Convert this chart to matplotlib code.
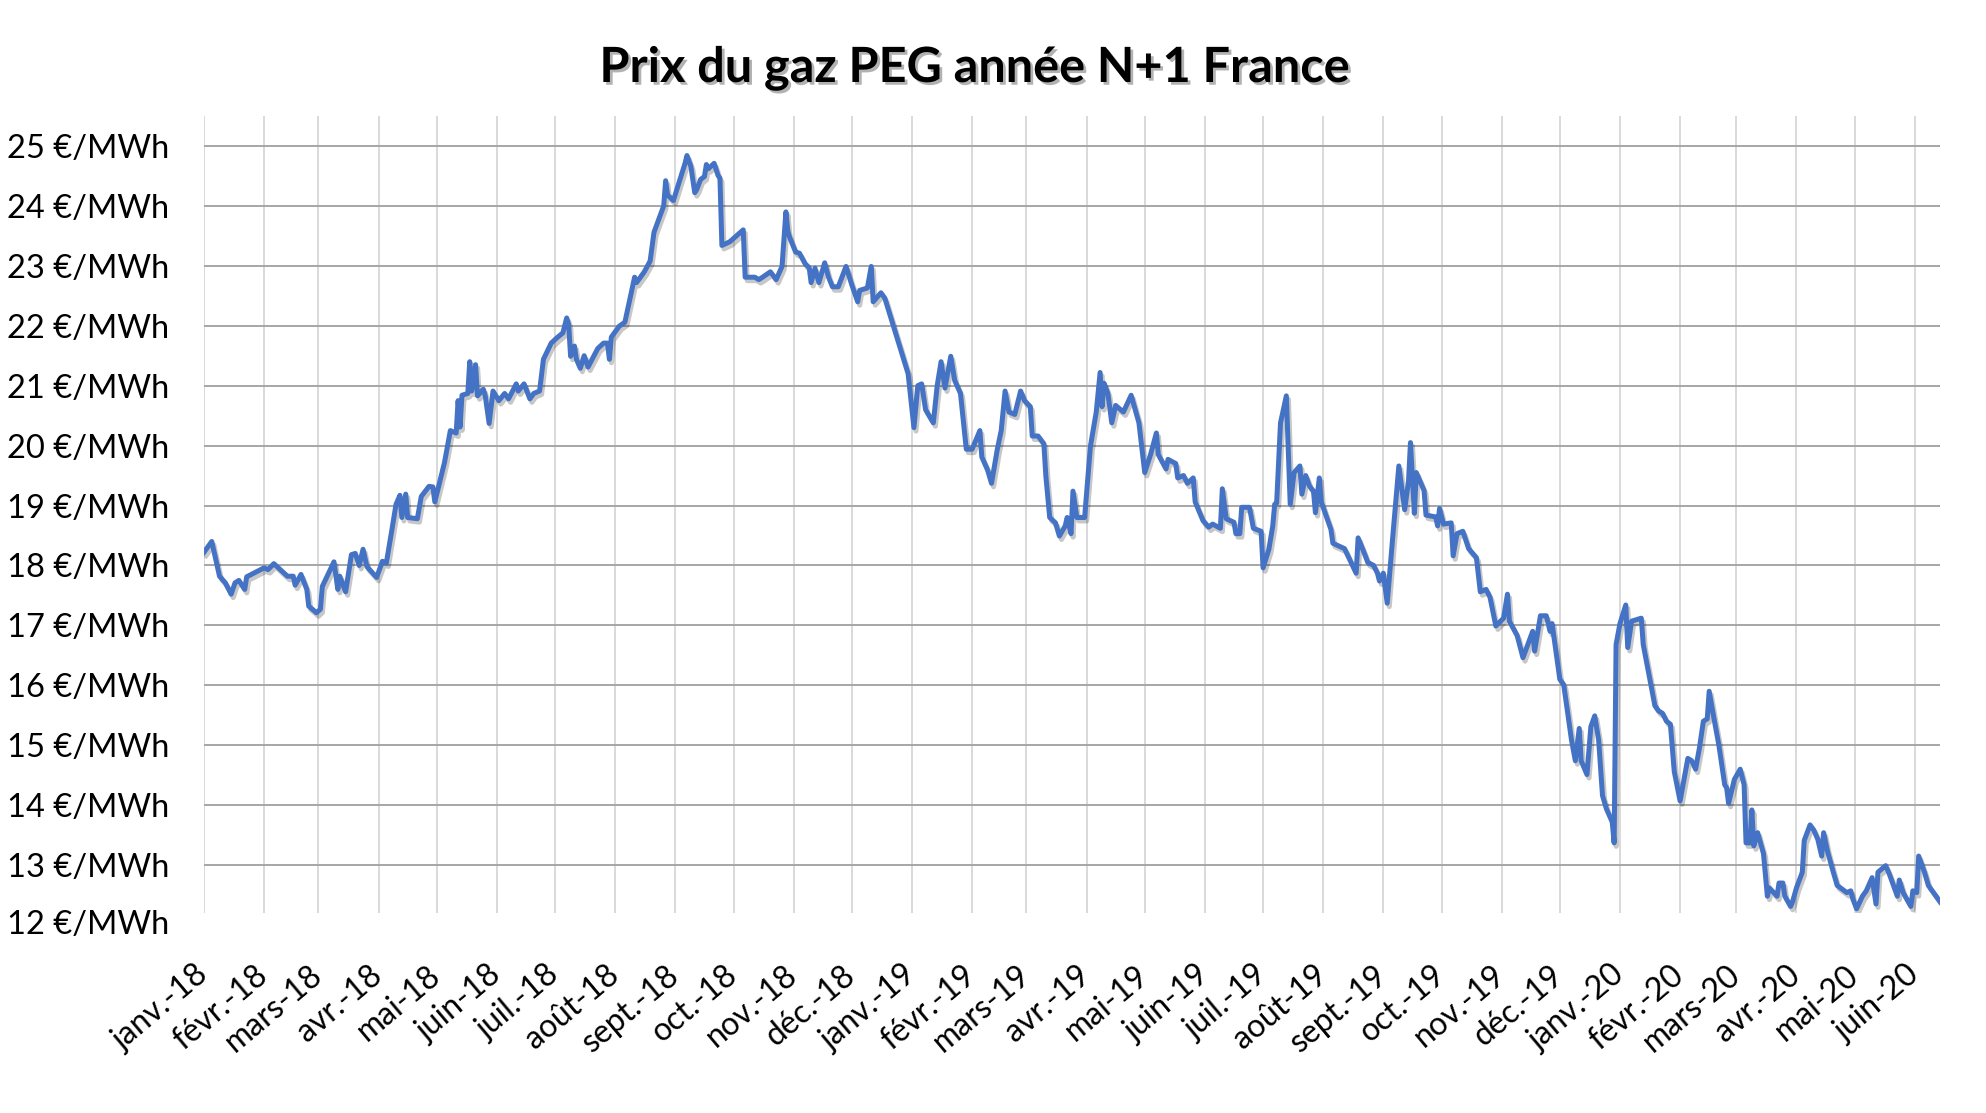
import numpy as np
import matplotlib
matplotlib.use("Agg")
import matplotlib.pyplot as plt
import matplotlib.patheffects as pe
from matplotlib.transforms import ScaledTranslation

plt.rcParams['font.family'] = ['Lato', 'DejaVu Sans']

title = "Prix du gaz PEG année N+1 France"
start_date = "2018-01-01"
end_date = "2020-06-14"

# day offsets from 2018-01-01 and prices (€/MWh)
days_2018 = [0,4,8,11,14,16,18,21,22,31,33,36,43,46,47,50,53,54,58,60,
             61,67,69,70,73,76,78,80,82,84,89,92,94,97,99,101,102,104,105,110,
             112,116,118,119,124,127,130,131,132,133,136,137,138,140,141,144,145,147,149,152,
             155,157,161,162,165,168,170,173,175,179,182,185,187,188,189,191,192,194,196,198,
             203,206,208,209,210,214,217,222,223,227,230,232,237,238,239,242,245,248,249,251,
             253,254,256,258,259,260,263,265,266,267,271,278,279,284,286,288,292,295,298,300,
             301,302,305,307,310,312,313,315,317,320,322,324,327,331,334,337,338,342,344,345,
             349,351]
price_2018 = [18.22,18.40,17.82,17.71,17.52,17.71,17.75,17.60,17.81,17.96,17.93,18.03,17.82,17.82,17.67,17.85,17.60,17.32,17.21,17.27,
              17.65,18.06,17.60,17.82,17.56,18.18,18.20,18.00,18.27,17.98,17.80,18.07,18.04,18.62,19.02,19.17,18.80,19.19,18.80,18.78,
              19.15,19.32,19.31,19.06,19.72,20.25,20.21,20.75,20.31,20.84,20.87,21.40,20.91,21.35,20.83,20.94,20.83,20.37,20.91,20.75,
              20.87,20.78,21.03,20.91,21.03,20.78,20.87,20.91,21.44,21.71,21.80,21.88,22.13,22.02,21.49,21.66,21.44,21.29,21.50,21.31,
              21.62,21.71,21.71,21.44,21.81,21.99,22.06,22.81,22.72,22.90,23.08,23.56,24.00,24.42,24.18,24.09,24.40,24.71,24.84,24.66,
              24.22,24.27,24.44,24.49,24.69,24.62,24.71,24.51,24.46,23.34,23.40,23.60,22.81,22.81,22.77,22.81,22.90,22.77,22.99,23.90,
              23.58,23.47,23.23,23.21,23.03,22.97,22.72,22.96,22.72,23.05,22.81,22.65,22.65,22.99,22.68,22.40,22.59,22.63,22.99,22.40,
              22.55,22.46]

days_2019 = [363,366,368,370,372,376,378,380,382,385,
             387,390,393,396,400,401,404,406,409,411,
             413,415,418,421,423,426,427,430,433,434,
             436,439,441,444,445,447,448,450,454,457,
             460,462,463,464,466,468,470,474,478,482,
             485,488,491,492,496,497,501,502,505,507,
             510,511,515,518,520,524,525,527,531,532,
             534,535,538,539,541,545,546,549,551,552,
             553,555,558,560,562,565,566,568,570,572,
             573,575,576,581,582,588,594,595,598,600,
             603,605,606,608,610,613,616,619,621,622,
             624,625,629,630,635,636,637,639,643,644,
             646,649,652,656,658,661,663,666,670,672,
             673,677,680,685,686,689,692,694,695,699,
             701,705,707,709,710,713,715,717,719,721,
             723,726,727]
price_2019 = [21.20,20.30,21.00,21.03,20.60,20.38,21.00,21.40,20.96,21.49,
              21.09,20.87,19.94,19.94,20.25,19.81,19.59,19.37,19.94,20.25,
              20.91,20.56,20.52,20.91,20.75,20.65,20.16,20.16,20.03,19.50,
              18.80,18.71,18.49,18.66,18.80,18.53,19.24,18.80,18.80,19.99,
              20.56,21.22,20.65,21.04,20.87,20.38,20.67,20.56,20.84,20.38,
              19.55,19.85,20.21,19.85,19.61,19.77,19.70,19.46,19.50,19.37,
              19.46,19.06,18.75,18.64,18.69,18.62,19.28,18.78,18.72,18.53,
              18.53,18.97,18.97,18.97,18.62,18.57,17.96,18.27,18.66,19.02,
              19.04,20.38,20.83,19.02,19.55,19.66,19.19,19.50,19.32,19.24,
              18.88,19.46,19.06,18.60,18.37,18.28,17.87,18.46,18.22,18.05,
              18.00,17.87,17.74,17.87,17.37,18.53,19.66,18.93,19.41,20.05,
              18.87,19.55,19.25,18.84,18.81,18.66,18.95,18.69,18.71,18.16,
              18.53,18.57,18.28,18.13,17.56,17.60,17.47,16.99,17.12,17.52,
              17.07,16.83,16.46,16.90,16.57,17.16,17.16,16.90,17.03,16.10,
              16.01,15.09,14.74,15.28,14.74,14.51,15.31,15.49,15.09,14.16,
              13.94,13.72,13.37]

days_2020 = [728,730,733,734,736,739,741,742,748,750,
             752,754,756,758,761,765,767,769,771,773,
             775,776,778,781,784,785,786,789,792,794,
             795,797,798,799,801,804,806,807,811,812,
             814,815,818,819,821,824,825,828,830,832,
             834,835,837,840,842,847,849,850,852,855,
             857,860,862,863,867,869,871,873,874,876,
             880,881,883,884,887,889,893,895]
price_2020 = [16.68,17.03,17.34,16.63,17.07,17.10,17.12,16.68,15.66,15.57,
              15.53,15.40,15.35,14.56,14.07,14.78,14.74,14.60,14.96,15.40,
              15.44,15.90,15.53,15.00,14.34,14.29,14.03,14.43,14.60,14.34,
              13.37,13.37,13.92,13.32,13.54,13.19,12.48,12.62,12.48,12.70,
              12.70,12.48,12.31,12.39,12.62,12.88,13.41,13.67,13.58,13.43,
              13.15,13.54,13.23,12.88,12.66,12.54,12.57,12.44,12.27,12.48,
              12.57,12.79,12.35,12.88,12.99,12.84,12.66,12.48,12.75,12.54,
              12.31,12.57,12.54,13.15,12.88,12.66,12.48,12.39]

month_names = ["janv.", "févr.", "mars", "avr.", "mai", "juin",
               "juil.", "août", "sept.", "oct.", "nov.", "déc."]
y_values = list(range(12, 26))

days = np.array(days_2018 + days_2019 + days_2020)
prices = np.array(price_2018 + price_2019 + price_2020)
dates = np.datetime64(start_date) + days.astype('timedelta64[D]')

W, H = 1986, 1113
fig = plt.figure(figsize=(W / 100, H / 100), dpi=100)
ax = fig.add_axes([204 / W, 1 - 913 / H, (1940 - 204) / W, (913 - 116) / H])

ax.plot(dates, prices, color='#4472C4', lw=3.6, solid_joinstyle='round',
        path_effects=[pe.SimpleLineShadow(offset=(1.5, -2.5), shadow_color='k', alpha=0.22),
                      pe.Normal()])

ax.set_xlim(np.datetime64(start_date), np.datetime64(end_date))
ax.set_ylim(12.2, 25.5)

# month ticks
month_starts = np.arange(np.datetime64('2018-01'), np.datetime64('2020-07'), dtype='datetime64[M]')
tick_labels = [f"{month_names[int(str(m)[5:7]) - 1]}-{str(m)[2:4]}" for m in month_starts]
ax.set_xticks(month_starts.astype('datetime64[D]'))
ax.set_xticklabels(tick_labels, rotation=40, ha='right', va='center',
                   rotation_mode='anchor', fontsize=23)
off = ScaledTranslation(8 / 100, 0, fig.dpi_scale_trans)
for lab in ax.get_xticklabels():
    lab.set_transform(lab.get_transform() + off)

ax.set_yticks(y_values[1:])
ax.set_yticklabels([f"{v} €/MWh" for v in y_values[1:]], fontsize=23.5)
ax.annotate(f"{y_values[0]} €/MWh", xy=(0, y_values[0]), xycoords=('axes fraction', 'data'),
            xytext=(-25, 0), textcoords='offset points', ha='right', va='center',
            fontsize=23.5, annotation_clip=False)

ax.tick_params(axis='x', length=0, pad=42)
ax.tick_params(axis='y', length=0, pad=25)

ax.grid(axis='y', color='#a6a6a6', lw=1.4)
ax.grid(axis='x', color='#d9d9d9', lw=1.4)
ax.set_axisbelow(True)
for s in ax.spines.values():
    s.set_visible(False)

fig.text(975 / W, 1 - 82 / H, title, ha='center', va='baseline', fontsize=35,
         fontweight='bold',
         path_effects=[pe.SimplePatchShadow(offset=(2, -2), shadow_rgbFace='#555555', alpha=0.45),
                       pe.Normal()])

fig.savefig("out.png", dpi=100, facecolor='white')
